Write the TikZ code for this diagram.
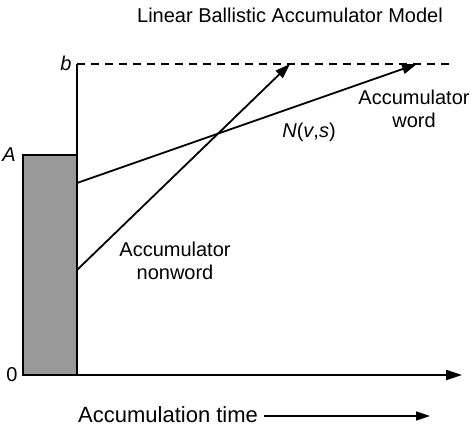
\documentclass[tikz,border=0pt]{standalone}
\usepackage{fontspec}
\setmainfont{Liberation Sans}
\usetikzlibrary{arrows.meta}
\tikzset{
  lab/.style={font=\fontsize{20}{23}\selectfont, inner sep=0pt},
  acc/.style={-{Triangle[length=15pt,width=10pt]}, line width=1.8pt},
}
\begin{document}
\begin{tikzpicture}[x=1pt,y=1pt]
\useasboundingbox (0,0) rectangle (474,426);
% axes and start-point box
\coordinate (o) at (77,51);
\coordinate (top) at (77,362);
\coordinate (xend) at (462,51);
\coordinate (bend) at (452,362);
\draw[fill=black!40, line width=1.6pt] (23,51) rectangle (77,271);
\draw[line width=1.8pt] (top) -- (o);
\draw[-{Triangle[length=16pt,width=10pt]}, line width=1.8pt] (o) -- (xend);
\draw[dashed, dash pattern=on 8pt off 6pt, line width=1.8pt] (top) -- (bend);
\node[lab] (ta) at (9,271) {\textit{A}};
\node[lab] (tb) at (66,363) {\textit{b}};
\node[lab] (tz) at (12,51) {0};
% the two accumulators
\coordinate (wstart) at (77,243);
\coordinate (wend) at (417,362);
\coordinate (nstart) at (77,156);
\coordinate (nend) at (290,362);
\draw[acc] (wstart) -- (wend);
\draw[acc] (nstart) -- (nend);
\node[lab] (nvs) at (309,294) {\textit{N}(\textit{v},\textit{s})};
\node[lab, align=center] (word) at (414,317) {Accumulator\\word};
\node[lab, align=center] (nonword) at (175,165) {Accumulator\\nonword};
% title and time label
\node[lab] (title) at (290,411) {Linear Ballistic Accumulator Model};
\node[lab, font=\fontsize{22}{24}\selectfont, anchor=west] (time) at (78,11) {Accumulation time};
\coordinate (tend) at (430,10);
\draw[-{Triangle[length=14pt,width=9pt]}, line width=1.6pt] ([xshift=6pt,yshift=-1pt]time.east) -- (tend);
\end{tikzpicture}
\end{document}
